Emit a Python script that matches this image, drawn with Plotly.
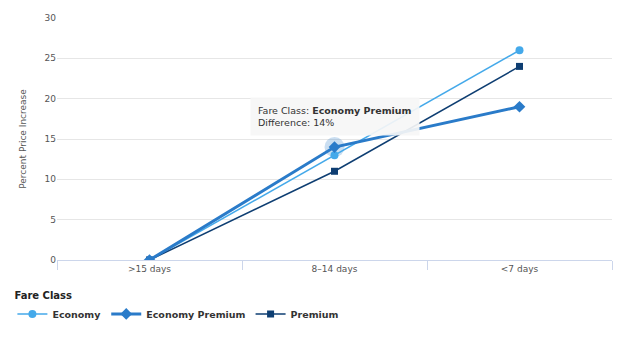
import plotly.graph_objects as go

# Booking window categories and percent price increase per fare class
windows = [">15 days", "8–14 days", "<7 days"]
economy = [0, 13, 26]
economy_premium = [0, 14, 19]
premium = [0, 11, 24]

y_ticks = [0, 5, 10, 15, 20, 25, 30]

FONT = "DejaVu Sans"
C_ECO = "#44a9ea"
C_ECOP = "#2a7bc9"
C_PREM = "#0e3e72"

fig = go.Figure()

# Hover halo around the highlighted point
fig.add_trace(go.Scatter(
    x=[windows[1]], y=[economy_premium[1]], mode="markers",
    marker=dict(size=20, color=C_ECOP, opacity=0.25, line=dict(width=0)),
    showlegend=False, hoverinfo="skip"))

fig.add_trace(go.Scatter(
    x=windows, y=economy, name="Economy", mode="lines+markers",
    line=dict(color=C_ECO, width=1.5),
    marker=dict(symbol="circle", size=8, color=C_ECO),
    legendrank=1))

fig.add_trace(go.Scatter(
    x=windows, y=premium, name="Premium", mode="lines+markers",
    line=dict(color=C_PREM, width=1.5),
    marker=dict(symbol="square", size=7, color=C_PREM),
    legendrank=3))

fig.add_trace(go.Scatter(
    x=windows, y=economy_premium, name="Economy Premium", mode="lines+markers",
    line=dict(color=C_ECOP, width=3),
    marker=dict(symbol="diamond", size=9, color=C_ECOP),
    legendrank=2))

# Tooltip box for the highlighted point
fig.add_annotation(
    x=windows[1], y=economy_premium[1], xref="x", yref="y",
    text="Fare Class: <b>Economy Premium</b><br>Difference: 14%",
    showarrow=False, xanchor="center", yanchor="bottom", yshift=11,
    align="left", bgcolor="rgba(246,246,246,0.92)", borderpad=7,
    font=dict(family=FONT, size=9.5, color="#333333"))

fig.update_layout(
    width=620, height=343,
    margin=dict(l=57, r=8, t=18, b=83),
    paper_bgcolor="white", plot_bgcolor="white",
    font=dict(family=FONT, size=9, color="#555555"),
    showlegend=True,
    legend=dict(
        orientation="h", xref="container", yref="container",
        x=0.02, y=0.165, xanchor="left", yanchor="top",
        title=dict(text="<b>Fare Class</b>", side="top",
                   font=dict(family=FONT, size=10, color="#222222")),
        font=dict(family=FONT, size=9.5, color="#333333", weight="bold"),
        itemwidth=30, tracegroupgap=0,
    ),
    hovermode=False,
)

fig.update_xaxes(
    type="category", categoryorder="array", categoryarray=windows,
    range=[-0.5, 2.5], tickson="boundaries",
    ticks="outside", ticklen=9, tickcolor="#ccd6eb",
    showline=True, linecolor="#ccd6eb", linewidth=1,
    showgrid=False, zeroline=False,
    tickfont=dict(family=FONT, size=9, color="#555555"))

fig.update_yaxes(
    range=[0, 30], tickvals=y_ticks,
    showgrid=True, gridcolor="#e6e6e6", gridwidth=1,
    zeroline=False, showline=False, ticks="",
    tickfont=dict(family=FONT, size=9, color="#555555"),
    title=dict(text="Percent Price Increase", standoff=16,
               font=dict(family=FONT, size=9, color="#555555")))

fig.write_html("out.html")
